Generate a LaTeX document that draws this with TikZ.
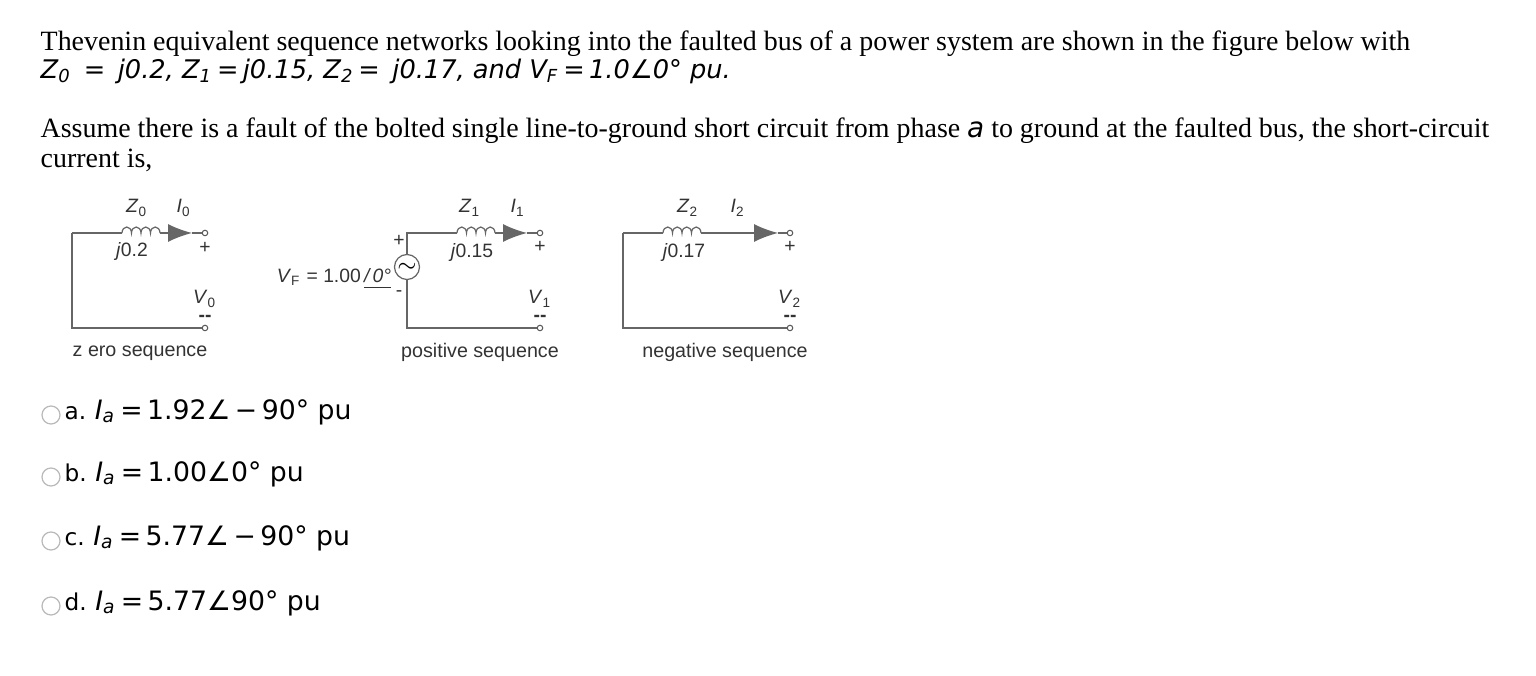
\documentclass[tikz,border=0pt]{standalone}
\usepackage{fontspec}
\setmainfont{Liberation Serif}
\newfontfamily\cktfont{Liberation Sans}
\newfontfamily\optfont{DejaVu Sans}
\usetikzlibrary{positioning,arrows.meta}

\tikzset{
  wire/.style={line width=0.35pt, gray!80!black},
  term/.style={circle, draw=gray!70!black, line width=0.3pt, inner sep=0pt, minimum size=0.55mm, fill=white},
  lbl/.style={font=\cktfont\fontsize{5.5}{6}\selectfont, text=black!80, inner sep=0pt},
  seq/.style={font=\cktfont\fontsize{5.6}{7}\selectfont, text=black!80, inner sep=0pt},
  opt/.style={font=\optfont\fontsize{7.6}{9}\selectfont, anchor=west, inner sep=0pt},
  radio/.style={circle, draw=gray!55, line width=0.35pt, inner sep=0pt, minimum size=1.8mm},
  tip/.style={-{Latex[length=2.4mm,width=1.8mm]}}
}
\newcommand{\coil}[2]{% start x, y
  \draw[wire] (#1,#2) arc [start angle=180, end angle=360, x radius=4.75, y radius=6]
    arc [start angle=180, end angle=360, x radius=4.75, y radius=6]
    arc [start angle=180, end angle=360, x radius=4.75, y radius=6]
    arc [start angle=180, end angle=360, x radius=4.75, y radius=6];}
\newcommand{\sub}[2]{\textit{#1}\textsubscript{#2}}

\begin{document}
\begin{tikzpicture}[x=0.1mm, y=-0.1mm]
\useasboundingbox (0,0) rectangle (1536,676);

% question text
\node[anchor=west, font=\fontsize{7.95}{10}\selectfont, inner sep=0pt] (q1) at (40,44)
  {Thevenin equivalent sequence networks looking into the faulted bus of a power system are shown in the figure below with};
\node[anchor=west, font=\optfont\itshape\fontsize{7.3}{9}\selectfont, inner sep=0pt] (q2) at (40,71)
  {Z\textsubscript{0} \,=\, j0.2, Z\textsubscript{1}\,=\,j0.15, Z\textsubscript{2}\,=\, j0.17, and V\textsubscript{F}\,=\,1.0∠0° pu.};
\node[anchor=west, font=\fontsize{7.95}{10}\selectfont, inner sep=0pt] (q3) at (40,131)
  {Assume there is a fault of the bolted single line-to-ground short circuit from phase {\optfont\itshape a} to ground at the faulted bus, the short-circuit};
\node[anchor=west, font=\fontsize{7.95}{10}\selectfont, inner sep=0pt] (q4) at (40,160) {current is,};

% zero sequence
\coordinate (z0tl) at (72,233);
\coordinate (z0bl) at (72,328);
\node[term] (z0p) at (205,233) {};
\node[term] (z0m) at (205,328) {};
\draw[wire] (z0tl) -- (122,233);
\coil{122}{233}
\draw[wire, tip] (160,233) -- (192,233);
\draw[wire] (192,233) -- (z0p);
\draw[wire] (z0tl) -- (z0bl) -- (z0m);
\node[lbl] (z0) at (137,208) {\sub{Z}{0}};
\node[lbl] (i0) at (184,208) {\sub{I}{0}};
\node[lbl] (z0v) at (132,252) {\textit{j}0.2};
\node[lbl] at (205,248) {+};
\node[lbl] (v0) at (205,299) {\sub{V}{0}};
\node[lbl] at (205,318) {\textbf{--}};
\node[seq] (zs) at (140,353) {z ero sequence};

% positive sequence
\node[circle, draw=gray!80!black, line width=0.35pt, minimum size=2.5mm, inner sep=0pt, font=\fontsize{6}{6}\selectfont] (src) at (407,267) {$\sim$};
\coordinate (p1tl) at (407,233);
\coordinate (p1bl) at (407,328);
\node[term] (p1p) at (540,233) {};
\node[term] (p1m) at (540,328) {};
\draw[wire] (src) -- (p1tl) -- (457,233);
\coil{457}{233}
\draw[wire, tip] (495,233) -- (527,233);
\draw[wire] (527,233) -- (p1p);
\draw[wire] (src) -- (p1bl) -- (p1m);
\node[lbl] at (399,241) {+};
\node[lbl] at (399,294) {-};
\node[lbl] (vf) at (334,279) {\sub{V}{F} = 1.00\,\underline{\textit{/\,0°}}};
\node[lbl] (z1) at (470,208) {\sub{Z}{1}};
\node[lbl] (i1) at (518,208) {\sub{I}{1}};
\node[lbl] (z1v) at (472,253) {\textit{j}0.15};
\node[lbl] at (540,247) {+};
\node[lbl] (v1) at (540,299) {\sub{V}{1}};
\node[lbl] at (540,318) {\textbf{--}};
\node[seq] (ps) at (480,352) {positive sequence};

% negative sequence
\coordinate (n2tl) at (623,233);
\coordinate (n2bl) at (623,328);
\node[term] (n2p) at (790,233) {};
\node[term] (n2m) at (790,328) {};
\draw[wire] (n2tl) -- (663,233);
\coil{663}{233}
\draw[wire, tip] (701,233) -- (778,233);
\draw[wire] (778,233) -- (n2p);
\draw[wire] (n2tl) -- (n2bl) -- (n2m);
\node[lbl] (z2) at (688,208) {\sub{Z}{2}};
\node[lbl] (i2) at (738,208) {\sub{I}{2}};
\node[lbl] (z2v) at (684,253) {\textit{j}0.17};
\node[lbl] at (790,247) {+};
\node[lbl] (v2) at (790,299) {\sub{V}{2}};
\node[lbl] at (790,318) {\textbf{--}};
\node[seq] (ns) at (725,352) {negative sequence};

% options
\foreach \y/\l/\t in {412/a./{1.92∠\,−\,90° pu},
                      474/b./{1.00∠0° pu},
                      538/c./{5.77∠\,−\,90° pu},
                      603/d./{5.77∠90° pu}} {
  \node[radio] at (51,\y+3) {};
  \node[opt] at (64,\y) {{\fontsize{6.6}{8}\selectfont\l}\ \textit{I}\textsubscript{\textit{a}}\,=\,\t};
}
\end{tikzpicture}
\end{document}
